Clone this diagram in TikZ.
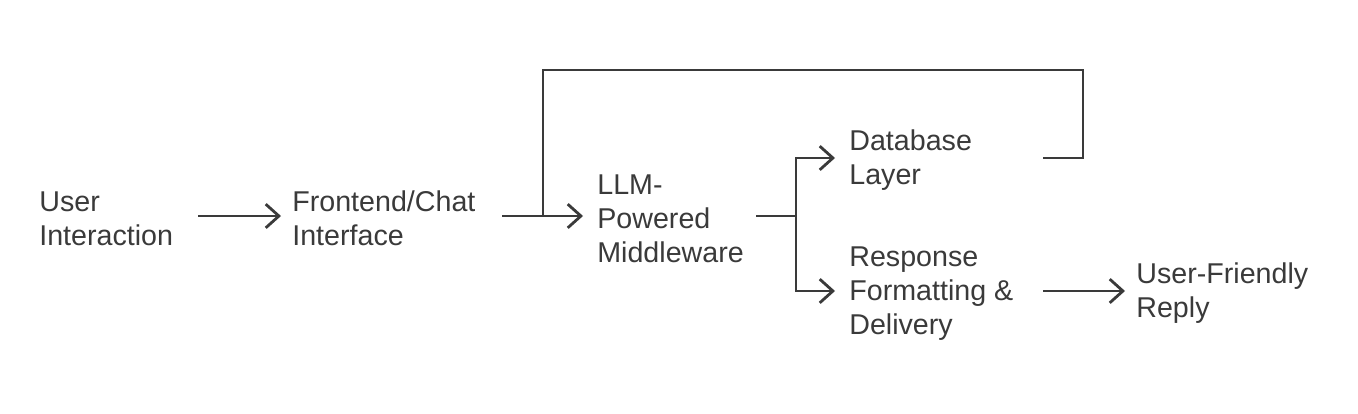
\documentclass[tikz,border=0pt]{standalone}
\usepackage{fontspec}
\setmainfont{Liberation Sans}
\usetikzlibrary{arrows.meta}
\definecolor{ink}{HTML}{3A3A3A}
\begin{document}
\begin{tikzpicture}[x=0.02cm,y=-0.02cm,
  lbl/.style={anchor=west,align=left,inner sep=0pt,text=ink,font=\fontsize{16.3}{19.3}\selectfont},
  conn/.style={draw=ink,line width=1.6pt},
  arr/.style={conn,-{Straight Barb[length=7.5pt,width=13.5pt]}}]
\useasboundingbox (0,0) rectangle (1358,413);
\node[lbl] (user) at (39,218.5) {User\\Interaction};
\node[lbl] (front) at (292,218.5) {Frontend/Chat\\Interface};
\node[lbl] (llm) at (597,218.5) {LLM-\\Powered\\Middleware};
\node[lbl] (db) at (849,160.5) {Database\\Layer};
\node[lbl] (resp) at (849,293.5) {Response\\Formatting \&\\Delivery};
\node[lbl] (reply) at (1136,293.5) {User-Friendly\\Reply};
% connector anchor points
\coordinate (a1s) at (198,216); \coordinate (a1e) at (281,216);
\coordinate (a2s) at (502,216); \coordinate (a2e) at (583,216);
\coordinate (br) at (543,216);
\coordinate (lo) at (756,216); \coordinate (fork) at (796,216);
\coordinate (dbin) at (835,158); \coordinate (respin) at (835,291);
\coordinate (dbout) at (1043,158); \coordinate (loopR) at (1083,70);
\coordinate (r1s) at (1043,291); \coordinate (r1e) at (1125,291);
\draw[arr] (a1s) -- (a1e);
\draw[arr] (a2s) -- (a2e);
\draw[conn] (dbout) -| (loopR) -| (br);
\draw[conn] (lo) -- (fork);
\draw[arr] (fork) |- (dbin);
\draw[arr] (fork) |- (respin);
\draw[arr] (r1s) -- (r1e);
\end{tikzpicture}
\end{document}
